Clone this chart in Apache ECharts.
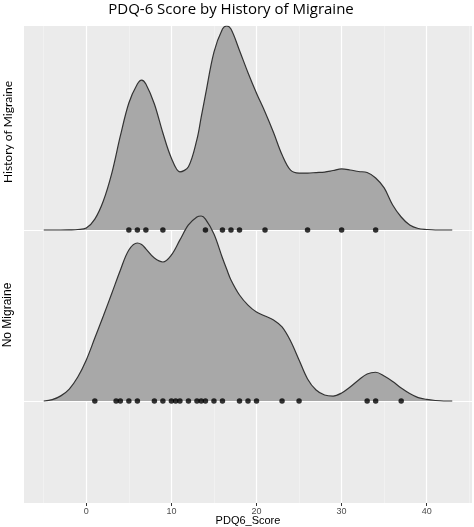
<!DOCTYPE html>
<html>
<head>
<meta charset="utf-8">
<script src="https://cdn.jsdelivr.net/npm/echarts@6/dist/echarts.min.js"></script>
<style>
  html, body { margin: 0; padding: 0; background: #fff; }
  #main { width: 474px; height: 527px; }
</style>
</head>
<body>
<div id="main"></div>
<script>
// score grid the ridges were read at
var scoreX = [-5, -4, -3, -2, -1, 0, 1, 2, 3, 4, 5, 6, 6.5, 7, 8, 9, 10, 11, 12, 13, 13.5, 14, 15, 16, 16.5, 17, 18,
  19, 20, 21, 22, 23, 24, 25, 26, 27, 28, 29, 30, 31, 32, 33, 34, 35, 36, 37, 38, 39, 40, 41, 42, 43];

// ridge heights (in rows) for each group
var migraineDensity = [0, 0, 0, 0.001, 0.003, 0.012, 0.064, 0.17, 0.333, 0.55, 0.743, 0.854, 0.877, 0.854, 0.737,
  0.567, 0.42, 0.34, 0.37, 0.53, 0.66, 0.79, 1.04, 1.175, 1.193, 1.175, 1.05, 0.92, 0.8, 0.69, 0.57, 0.44, 0.35,
  0.333, 0.333, 0.336, 0.339, 0.348, 0.357, 0.351, 0.342, 0.336, 0.304, 0.246, 0.146, 0.076, 0.029, 0.009, 0.003,
  0, 0, 0];
var noMigraineDensity = [0, 0.008, 0.03, 0.07, 0.14, 0.24, 0.368, 0.497, 0.63, 0.765, 0.883, 0.924, 0.915, 0.89,
  0.836, 0.813, 0.854, 0.942, 1.03, 1.076, 1.082, 1.064, 0.977, 0.836, 0.77, 0.708, 0.62, 0.561, 0.52, 0.497, 0.474,
  0.433, 0.351, 0.24, 0.129, 0.064, 0.035, 0.029, 0.047, 0.082, 0.123, 0.158, 0.168, 0.146, 0.114, 0.076, 0.044,
  0.02, 0.009, 0.003, 0, 0];

// individual scores
var migraineScores = [5, 6, 7, 9, 14, 16, 17, 18, 21, 26, 30, 34];
var noMigraineScores = [1, 3.5, 4, 5, 6, 8, 9, 10, 10.5, 11, 12, 13, 13.5, 14, 15, 16, 18, 19, 20, 23, 25, 33, 34, 37];

var groups = ['No Migraine', 'History of Migraine'];
var xTicks = [0, 10, 20, 30, 40];
var xMinor = [-5, 5, 15, 25, 35, 45];

function ridge(base, dens) {
  return scoreX.map(function (x, i) { return [x, base + dens[i]]; });
}

function ridgeSeries(name, base, dens) {
  return {
    name: name,
    type: 'line',
    data: ridge(base, dens),
    smooth: 0.35,
    symbol: 'none',
    silent: true,
    z: 2,
    lineStyle: { color: '#333333', width: 1.2 },
    areaStyle: { color: '#A8A8A8', opacity: 1, origin: base }
  };
}

function dotSeries(name, base, scores) {
  return {
    name: name + ' pts',
    type: 'scatter',
    data: scores.map(function (s) { return [s, base]; }),
    symbolSize: 5.5,
    itemStyle: { color: '#000' },
    z: 3
  };
}

var gridLines = [];
xMinor.forEach(function (v) {
  gridLines.push({ xAxis: v, lineStyle: { color: '#F3F3F3', width: 0.8, type: 'solid' } });
});
xTicks.forEach(function (v) {
  gridLines.push({ xAxis: v, lineStyle: { color: '#FFFFFF', width: 1.2, type: 'solid' } });
});
[1, 2].forEach(function (v) {
  gridLines.push({ yAxis: v, lineStyle: { color: '#FFFFFF', width: 1.2, type: 'solid' } });
});

var chart = echarts.init(document.getElementById('main'));
var option = {
  animation: false,
  grid: {
    left: 24, right: 2, top: 26, bottom: 24,
    outerBoundsMode: 'none',
    containLabel: false,
    show: true, backgroundColor: '#EBEBEB', borderWidth: 0
  },
  xAxis: {
    type: 'value',
    min: -7.32,
    max: 45.32,
    axisLine: { show: false },
    axisTick: { show: true, customValues: xTicks, length: 3, lineStyle: { color: '#333' } },
    axisLabel: { customValues: xTicks, margin: 4, fontFamily: 'Liberation Sans', fontSize: 9, color: '#4D4D4D' },
    splitLine: { show: false }
  },
  yAxis: {
    type: 'value',
    min: 0.4035,
    max: 3.193,
    axisLine: { show: false },
    axisTick: { show: false },
    axisLabel: { show: false },
    splitLine: { show: false }
  },
  graphic: [
    {
      type: 'text', x: 231, y: 10,
      style: { text: 'PDQ-6 Score by History of Migraine', fontFamily: 'Open Sans', fontSize: 15, fill: '#000', align: 'center', verticalAlign: 'middle' }
    },
    {
      type: 'text', x: 248, y: 521,
      style: { text: 'PDQ6_Score', fontFamily: 'Liberation Sans', fontSize: 11, fill: '#000', align: 'center', verticalAlign: 'middle' }
    },
    {
      type: 'text', x: 8, y: 132, rotation: Math.PI / 2,
      style: { text: groups[1], fontFamily: 'Lato', fontSize: 12, fill: '#000', align: 'center', verticalAlign: 'middle' }
    },
    {
      type: 'text', x: 8, y: 315, rotation: Math.PI / 2,
      style: { text: groups[0], fontFamily: 'Liberation Sans', fontSize: 12, fill: '#000', align: 'center', verticalAlign: 'middle' }
    }
  ],
  series: [
    {
      type: 'line',
      data: [],
      z: 1,
      silent: true,
      markLine: { silent: true, z: 1, symbol: ['none', 'none'], label: { show: false }, data: gridLines }
    },
    ridgeSeries(groups[1], 2, migraineDensity),
    ridgeSeries(groups[0], 1, noMigraineDensity),
    dotSeries(groups[1], 2, migraineScores),
    dotSeries(groups[0], 1, noMigraineScores)
  ]
};
chart.setOption(option);
</script>
</body>
</html>
